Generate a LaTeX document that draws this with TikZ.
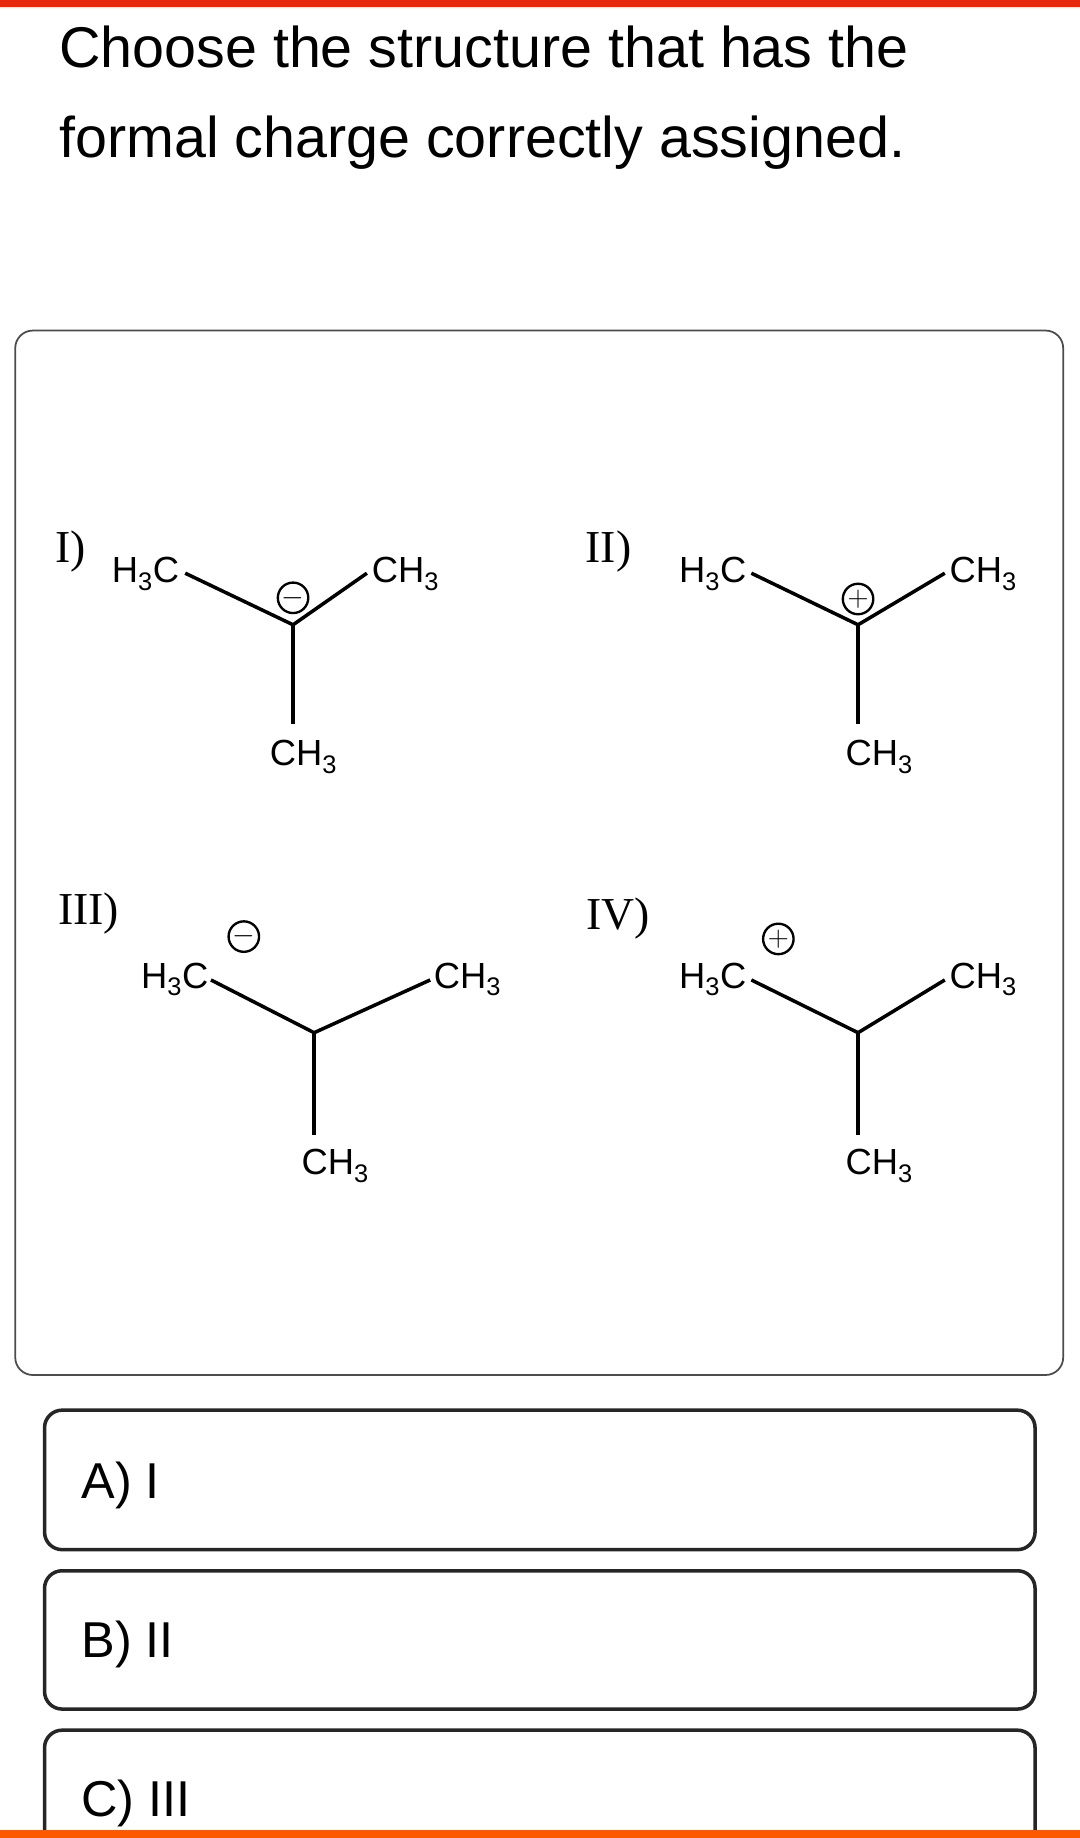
\documentclass[tikz,border=0pt]{standalone}
\usepackage{fontspec}
\setmainfont{Liberation Sans}
\newfontfamily\romanf{Liberation Serif}
\begin{document}
\begin{tikzpicture}[x=1pt,y=-1pt,
  title/.style={anchor=base west,font=\fontsize{49}{56}\selectfont},
  lab/.style={anchor=base west,font=\romanf\fontsize{39}{42}\selectfont},
  grpl/.style={anchor=base east,inner sep=0pt,font=\fontsize{31}{33}\selectfont},
  grpr/.style={anchor=base west,inner sep=0pt,font=\fontsize{31}{33}\selectfont},
  grpb/.style={anchor=base,inner sep=0pt,font=\fontsize{31}{33}\selectfont},
  bond/.style={line width=3pt},
  chg/.style={circle,draw,line width=2pt,minimum size=26pt,inner sep=0pt,font=\fontsize{25}{25}\selectfont},
  ans/.style={draw=black!85,line width=3pt,rounded corners=15pt},
  anst/.style={anchor=base west,font=\fontsize{43}{46}\selectfont}]
\useasboundingbox (0,0) rectangle (921,1568);
\fill[white] (0,0) rectangle (921,1568);
\fill[red!75!orange!90!black!95] (0,0) rectangle (921,6);
\node[title] (t1) at (47,58) {Choose the structure that has the};
\node[title] (t2) at (47,134) {formal charge correctly assigned.};
\draw[black!70,line width=1.5pt,rounded corners=15pt] (13,282) rectangle (907,1173);
% I
\node[lab] (l1) at (44,480) {I)};
\node[grpl] (a1) at (153,497) {H\textsubscript{3}C};
\node[grpr] (b1) at (317,497) {CH\textsubscript{3}};
\node[grpb] (c1) at (259,653) {CH\textsubscript{3}};
\coordinate (m1) at (250,533);
\draw[bond] (158,489) -- (m1) -- (313,489);
\draw[bond] (m1) -- (250,618);
\node[chg] (q1) at (250,510) {$-$};
% II
\node[lab] (l2) at (496,480) {II)};
\node[grpl] (a2) at (637,497) {H\textsubscript{3}C};
\node[grpr] (b2) at (810,497) {CH\textsubscript{3}};
\node[grpb] (c2) at (750,653) {CH\textsubscript{3}};
\coordinate (m2) at (732,533);
\draw[bond] (641,489) -- (m2) -- (806,489);
\draw[bond] (m2) -- (732,618);
\node[chg] (q2) at (732,511) {$+$};
% III
\node[lab] (l3) at (46,789) {III)};
\node[grpl] (a3) at (178,843) {H\textsubscript{3}C};
\node[grpr] (b3) at (370,843) {CH\textsubscript{3}};
\node[grpb] (c3) at (286,1002) {CH\textsubscript{3}};
\coordinate (m3) at (268,881);
\draw[bond] (180,836) -- (m3) -- (367,836);
\draw[bond] (m3) -- (268,968);
\node[chg] (q3) at (208,799) {$-$};
% IV
\node[lab] (l4) at (497,793) {IV)};
\node[grpl] (a4) at (637,843) {H\textsubscript{3}C};
\node[grpr] (b4) at (810,843) {CH\textsubscript{3}};
\node[grpb] (c4) at (750,1002) {CH\textsubscript{3}};
\coordinate (m4) at (732,881);
\draw[bond] (641,836) -- (m4) -- (806,836);
\draw[bond] (m4) -- (732,968);
\node[chg] (q4) at (664,801) {$+$};
% answers
\draw[ans] (38,1203) rectangle (883,1322);
\node[anst] (ta) at (66,1278) {A) I};
\draw[ans] (38,1340) rectangle (883,1458);
\node[anst] (tb) at (66,1414) {B) II};
\draw[ans] (38,1575) -- (38,1476) -- (883,1476) -- (883,1575);
\node[anst] (tc) at (66,1550) {C) III};
\fill[orange!70!red] (0,1561) rectangle (921,1568);
\end{tikzpicture}
\end{document}
